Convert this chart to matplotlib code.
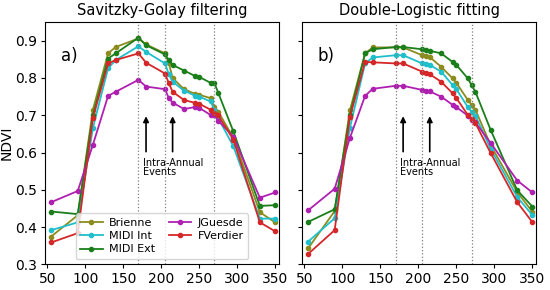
import matplotlib
matplotlib.use("Agg")
import matplotlib.pyplot as plt

# dates (day of year)
days = [55, 90, 110, 130, 140, 170, 180, 205, 210, 215, 230, 245, 250, 265, 270, 275, 295, 330, 350]

# a) Savitzky-Golay filtering
sg_brienne = [0.375, 0.432, 0.715, 0.866, 0.883, 0.906, 0.890, 0.866, 0.840, 0.800, 0.770, 0.757, 0.755, 0.746, 0.723, 0.710, 0.640, 0.440, 0.413]
sg_midi_int = [0.392, 0.413, 0.666, 0.826, 0.848, 0.885, 0.870, 0.839, 0.810, 0.790, 0.766, 0.752, 0.750, 0.737, 0.715, 0.693, 0.617, 0.423, 0.423]
sg_midi_ext = [0.442, 0.435, 0.700, 0.852, 0.866, 0.908, 0.888, 0.863, 0.848, 0.835, 0.820, 0.805, 0.803, 0.787, 0.787, 0.761, 0.657, 0.457, 0.459]
sg_jguesde = [0.467, 0.497, 0.621, 0.752, 0.763, 0.795, 0.777, 0.770, 0.746, 0.734, 0.717, 0.722, 0.720, 0.701, 0.700, 0.686, 0.643, 0.479, 0.493]
sg_fverdier = [0.359, 0.384, 0.693, 0.839, 0.848, 0.866, 0.841, 0.812, 0.786, 0.763, 0.741, 0.733, 0.731, 0.715, 0.706, 0.700, 0.635, 0.413, 0.389]

# b) Double-Logistic fitting
dl_brienne = [0.343, 0.443, 0.713, 0.866, 0.882, 0.882, 0.882, 0.861, 0.858, 0.856, 0.830, 0.799, 0.787, 0.741, 0.728, 0.715, 0.620, 0.494, 0.441]
dl_midi_int = [0.361, 0.424, 0.666, 0.839, 0.855, 0.861, 0.861, 0.839, 0.837, 0.835, 0.817, 0.781, 0.770, 0.722, 0.710, 0.699, 0.610, 0.481, 0.432]
dl_midi_ext = [0.414, 0.448, 0.700, 0.866, 0.877, 0.883, 0.883, 0.877, 0.875, 0.873, 0.866, 0.843, 0.835, 0.799, 0.781, 0.763, 0.661, 0.499, 0.455]
dl_jguesde = [0.445, 0.503, 0.639, 0.752, 0.771, 0.779, 0.779, 0.768, 0.766, 0.764, 0.750, 0.728, 0.722, 0.699, 0.688, 0.681, 0.626, 0.525, 0.493]
dl_fverdier = [0.328, 0.392, 0.695, 0.843, 0.842, 0.839, 0.839, 0.817, 0.813, 0.810, 0.790, 0.759, 0.746, 0.701, 0.690, 0.679, 0.599, 0.467, 0.413]

names = ["Brienne", "MIDI Int", "MIDI Ext", "JGuesde", "FVerdier"]
colors = ["#8c8c1e", "#1fbfcc", "#1a7f1a", "#b020b0", "#d62728"]
events = [170, 205, 270]

fig = plt.figure(figsize=(5.5, 2.9), dpi=100)
ax1 = fig.add_axes([0.082, 0.088, 0.425, 0.836])
ax2 = fig.add_axes([0.549, 0.088, 0.426, 0.836], sharey=ax1)

panels = [
    (ax1, [sg_brienne, sg_midi_int, sg_midi_ext, sg_jguesde, sg_fverdier], "Savitzky-Golay filtering", "a)"),
    (ax2, [dl_brienne, dl_midi_int, dl_midi_ext, dl_jguesde, dl_fverdier], "Double-Logistic fitting", "b)"),
]

for ax, series, title, tag in panels:
    for vals, name, c in zip(series, names, colors):
        ax.plot(days, vals, '-o', color=c, lw=1.3, ms=3, label=name)
    for d in events:
        ax.axvline(d, color='gray', ls=':', lw=0.9)
    for d in [180, 215]:
        ax.annotate("", xy=(d, 0.705), xytext=(d, 0.595),
                    arrowprops=dict(arrowstyle='-|>', color='black', lw=1.2, mutation_scale=8))
    ax.text(176, 0.585, "Intra-Annual\nEvents", fontsize=7, va='top', ha='left', linespacing=0.8)
    ax.text(68, 0.86, tag, fontsize=12, va='center', ha='left')
    ax.set_title(title, fontsize=10.5, pad=5)
    ax.set_xlim(47, 355)
    ax.set_ylim(0.3, 0.95)
    ax.set_xticks([50, 100, 150, 200, 250, 300, 350])
    ax.tick_params(labelsize=10, length=3, pad=2.5)

ax1.set_yticks([0.3, 0.4, 0.5, 0.6, 0.7, 0.8, 0.9])
ax1.set_ylabel("NDVI", fontsize=10, labelpad=1)
plt.setp(ax2.get_yticklabels(), visible=False)

ax1.legend(ncol=2, fontsize=8, loc='lower center', bbox_to_anchor=(0.5, 0.0),
           handlelength=2, columnspacing=1.2, handletextpad=0.6,
           borderpad=0.4, labelspacing=0.3)

fig.savefig("out.png", dpi=100)
